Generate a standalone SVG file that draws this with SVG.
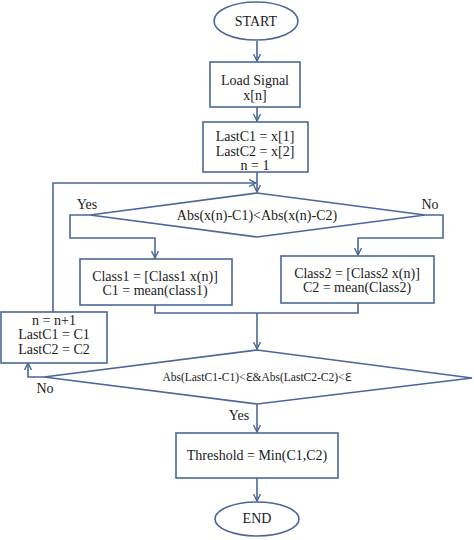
<svg xmlns="http://www.w3.org/2000/svg" width="474" height="540" viewBox="0 0 474 540">
<defs>
<style>
.s{fill:#fff;stroke:#4a6798;stroke-width:1.6}
.c{fill:none;stroke:#4a6798;stroke-width:1.6}
text{font-family:"Liberation Serif","Times New Roman",serif;font-size:14px;fill:#1a1a1a;text-anchor:middle}
.sm{font-size:11.5px}
</style>
<marker id="a" viewBox="0 0 8 8" refX="7" refY="4" markerWidth="8" markerHeight="8" markerUnits="userSpaceOnUse" orient="auto">
<path d="M0,0.5 L7,4 L0,7.5" fill="none" stroke="#4a6798" stroke-width="1.4"/>
</marker>
</defs>
<rect width="474" height="540" fill="#fff"/>
<g id="connectors" class="c">
<path class="c" d="M257,41 V61" marker-end="url(#a)"/>
<path class="c" d="M257,107 V121" marker-end="url(#a)"/>
<path class="c" d="M257,172 V192" marker-end="url(#a)"/>
<path class="c" d="M53,312 V183 H256" marker-end="url(#a)"/>
<path class="c" d="M90,215 H70 V238 H155 V258" marker-end="url(#a)"/>
<path class="c" d="M425,215 H443 V238 H358 V255" marker-end="url(#a)"/>
<path class="c" d="M155,305 V313 H358 V303"/>
<path class="c" d="M257,313 V349" marker-end="url(#a)"/>
<path class="c" d="M44,377 H28 V363" marker-end="url(#a)"/>
<path class="c" d="M257,403 V432" marker-end="url(#a)"/>
<path class="c" d="M257,478 V501" marker-end="url(#a)"/>
</g>
<g font-family="Liberation Serif, serif">
<g id="start"><ellipse class="s" cx="256" cy="21" rx="42" ry="19"/><text x="256" y="26">START</text></g>
<g id="load"><rect class="s" x="210" y="62" width="90" height="45"/><text x="255" y="85">Load Signal</text><text x="255" y="100">x[n]</text></g>
<g id="init"><rect class="s" x="203" y="122" width="105" height="50"/><text x="255" y="141">LastC1 = x[1]</text><text x="255" y="156">LastC2 = x[2]</text><text x="255" y="170">n = 1</text></g>
<g id="cond1"><polygon class="s" points="257,193 425,215 257,237 90,215"/><text x="257" y="220">Abs(x(n)-C1)&lt;Abs(x(n)-C2)</text></g>
<text x="87" y="209">Yes</text>
<text x="430" y="209">No</text>
<g id="class1"><rect class="s" x="80" y="259" width="152" height="46"/><text x="155" y="281">Class1 = [Class1 x(n)]</text><text x="155" y="295">C1 = mean(class1)</text></g>
<g id="class2"><rect class="s" x="281" y="256" width="153" height="47"/><text x="357" y="278">Class2 = [Class2 x(n)]</text><text x="357" y="292">C2 = mean(Class2)</text></g>
<g id="update"><rect class="s" x="1" y="312" width="106" height="51"/><text x="54" y="325">n = n+1</text><text x="54" y="339">LastC1 = C1</text><text x="54" y="354">LastC2 = C2</text></g>
<g id="cond2"><polygon class="s" points="257,350 472,378 257,404 44,377"/><text class="sm" x="257" y="381">Abs(LastC1-C1)&lt;ℇ&amp;Abs(LastC2-C2)&lt;ℇ</text></g>
<text x="45" y="393">No</text>
<text x="239" y="420">Yes</text>
<g id="threshold"><rect class="s" x="176" y="433" width="162" height="45"/><text x="257" y="460">Threshold = Min(C1,C2)</text></g>
<g id="end"><ellipse class="s" cx="257" cy="519" rx="42" ry="17"/><text x="257" y="523">END</text></g>
</g>
</svg>
